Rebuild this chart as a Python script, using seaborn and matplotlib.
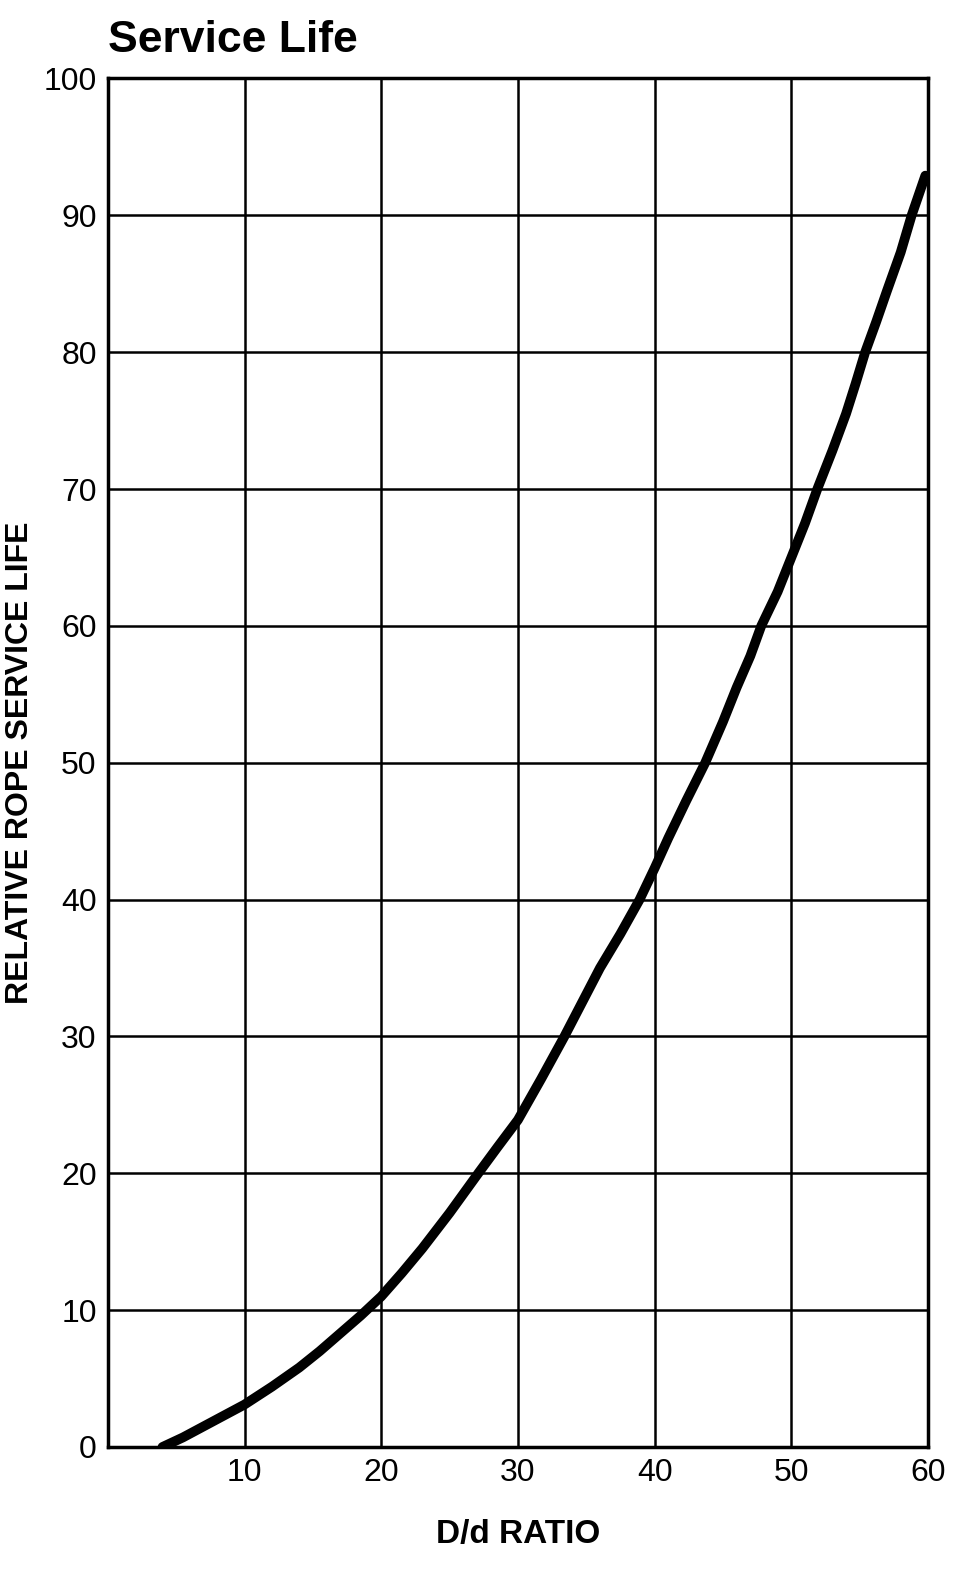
import matplotlib
matplotlib.use("Agg")
import matplotlib.pyplot as plt
import seaborn as sns
import pandas as pd

# values
ratio = [4, 5.5, 7, 8.5, 10, 12, 14, 15.5, 17, 18.5, 20, 21.5, 23, 25, 27.1, 28.5, 30, 31.7, 33.4,
         34.7, 36, 37.5, 38.9, 40, 41, 42.3, 43.7, 45, 46, 47, 47.8, 49, 50, 51, 51.9, 53, 54,
         54.7, 55.4, 56.2, 57, 58, 58.8, 59.8]
life = [0, 0.7, 1.5, 2.3, 3.1, 4.4, 5.8, 7.0, 8.3, 9.6, 11, 12.7, 14.5, 17.1, 20, 21.9, 23.9, 26.9, 30,
        32.5, 35, 37.5, 40, 42.3, 44.5, 47.2, 50, 53, 55.5, 57.8, 60, 62.5, 65, 67.5, 70, 72.8, 75.5,
        77.7, 80, 82.2, 84.5, 87.3, 90, 92.9]
x_ticks = [10, 20, 30, 40, 50, 60]
y_ticks = [0, 10, 20, 30, 40, 50, 60, 70, 80, 90, 100]

df = pd.DataFrame({"ratio": ratio, "life": life})

sns.set_style("white")
plt.rcParams["font.family"] = ["Liberation Sans", "DejaVu Sans"]
plt.rcParams["text.color"] = "black"

fig = plt.figure(figsize=(9.8, 15.95), dpi=100)
ax = fig.add_axes([0.110, 0.0928, 0.837, 0.858])

sns.lineplot(data=df, x="ratio", y="life", ax=ax, color="black", linewidth=7,
             solid_capstyle="round", solid_joinstyle="round")

ax.set_xlim(0, 60)
ax.set_ylim(0, 100)
ax.set_xticks(x_ticks)
ax.set_yticks(y_ticks)
ax.grid(True, color="black", linewidth=1.8)
for s in ax.spines.values():
    s.set_color("black")
    s.set_linewidth(2.5)
ax.tick_params(axis="both", labelsize=23, length=0, pad=8, colors="black")

ax.set_xlabel("D/d RATIO", fontsize=24, fontweight="bold", labelpad=22, color="black")
ax.set_ylabel("RELATIVE ROPE SERVICE LIFE", fontsize=23, fontweight="bold", labelpad=6, color="black")
fig.text(0.11, 0.962, "Service Life", fontsize=32, fontweight="bold", ha="left", va="bottom",
         color="black")

fig.savefig("out.png", dpi=100)
